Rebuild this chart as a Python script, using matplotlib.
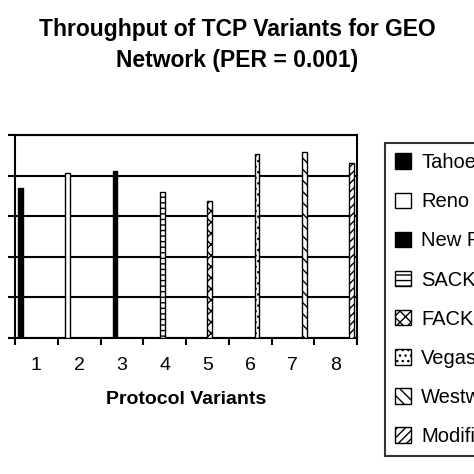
import matplotlib
matplotlib.use("Agg")
import matplotlib.pyplot as plt
import numpy as np
from matplotlib.patches import Patch

series = ["Tahoe", "Reno", "New Reno", "SACK", "FACK", "Vegas", "Westwood", "Modified"]
categories = ["1", "2", "3", "4", "5", "6", "7", "8"]
values = [3.69, 4.06, 4.11, 3.60, 3.37, 4.53, 4.58, 4.31]
styles = [("black", ".."), ("white", ""), ("black", "oo"), ("white", "---"),
          ("white", "xxx"), ("white", "..."), ("white", "\\\\\\"), ("white", "////")]

plt.rcParams['font.family'] = ['Liberation Sans', 'DejaVu Sans']
plt.rcParams['hatch.linewidth'] = 1.0
fig = plt.figure(figsize=(4.74, 4.74), dpi=100)
ax = fig.add_axes([15/474, 1-338/474, 342/474, 203/474])

n = len(series)
gw = 0.85
bw = gw / n
for k in range(n):
    x = k + 0.5 - gw/2 + bw*(k + 0.5)
    fc, h = styles[k]
    ax.bar(x, values[k], width=bw, facecolor=fc, edgecolor="black", hatch=h, linewidth=1.0, zorder=3)

ax.set_xlim(0, n)
ax.set_ylim(0, 5)
ax.set_yticks(range(6))
ax.set_yticklabels([])
ax.yaxis.grid(True, color="black", linewidth=1.5, zorder=0)
ax.set_xticks(np.arange(n + 1))
ax.set_xticklabels([])
ax.set_xticks(np.arange(n) + 0.5, minor=True)
ax.set_xticklabels(categories, minor=True, fontsize=14)
ax.tick_params(axis="x", which="minor", length=0, pad=14)
ax.tick_params(axis="both", which="major", length=5, width=1.5, direction="out")
for s in ax.spines.values():
    s.set_linewidth(1.5)
ax.set_xlabel("Protocol Variants", fontsize=14, fontweight="bold", labelpad=12)

fig.text(0.5, 1-18/474, "Throughput of TCP Variants for GEO\nNetwork (PER = 0.001)",
         ha="center", va="top", fontsize=16.5, fontweight="bold", linespacing=1.45)

handles = [Patch(facecolor=fc, edgecolor="black", hatch=h) for fc, h in styles]
leg = fig.legend(handles, series, loc="upper left", bbox_to_anchor=(375/474, 1-133/474),
                 fontsize=14.5, frameon=True, fancybox=False, edgecolor="black",
                 labelspacing=1.0, handlelength=0.8, handleheight=0.8, borderpad=0.5,
                 handletextpad=0.5)
leg.get_frame().set_linewidth(1.5)
fig.savefig("out.png", dpi=100)
